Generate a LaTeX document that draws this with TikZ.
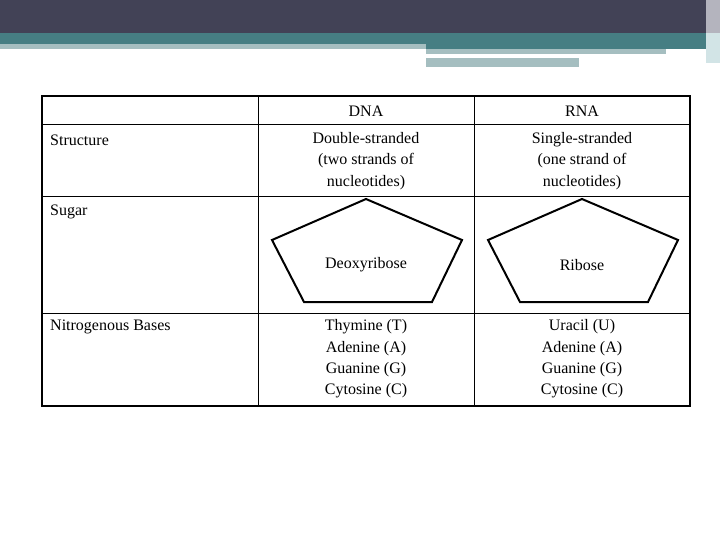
\documentclass[tikz,border=0pt]{standalone}
\usepackage{fontspec}
\setmainfont{Liberation Serif}
\begin{document}
\begin{tikzpicture}[x=1pt,y=-1pt,
 txt/.style={font=\fontsize{16}{21.3}\selectfont,align=center,inner sep=0},
 lt/.style={font=\fontsize{16}{21.3}\selectfont,anchor=west,inner sep=0},
 pent/.style={draw=black,line width=2pt,line join=miter}]
\useasboundingbox (0,0) rectangle (720,540);
\fill[white] (0,0) rectangle (720,540);
\fill[fill={rgb,255:red,66;green,66;blue,86}] (0,0) rectangle (720,33);
\fill[fill={rgb,255:red,70;green,126;blue,131}] (0,33) rectangle (720,44);
\fill[fill={rgb,255:red,70;green,126;blue,131}] (426,44) rectangle (720,49);
\fill[fill={rgb,255:red,165;green,190;blue,192}] (0,44) rectangle (426,49);
\fill[fill={rgb,255:red,165;green,190;blue,192}] (426,49) rectangle (666,54);
\fill[fill={rgb,255:red,165;green,190;blue,192}] (426,58) rectangle (579,67);
\fill[fill={rgb,255:red,180;green,180;blue,190}] (706,0) rectangle (720,33);
\fill[fill={rgb,255:red,210;green,228;blue,230}] (706,33) rectangle (720,63);
% table
\draw[line width=1.2pt] (42,96) rectangle (690,406);
\foreach \y in {125,197,313} \draw[line width=1pt] (42,\y) -- (690,\y);
\foreach \x in {258,474} \draw[line width=1pt] (\x,96) -- (\x,406);
\node[txt] (hd) at (366,111) {DNA};
\node[txt] (hr) at (582,111) {RNA};
\node[lt] (s) at (50,140) {Structure};
\node[txt] (sd) at (366,161) {Double-stranded\\(two strands of\\nucleotides)};
\node[txt] (sr) at (582,161) {Single-stranded\\(one strand of\\nucleotides)};
\node[lt] (su) at (50,212) {Sugar};
\draw[pent] (366,199) -- (462,240) -- (432,302) -- (304,302) -- (272,240) -- cycle;
\draw[pent] (582,199) -- (678,240) -- (648,302) -- (520,302) -- (488,240) -- cycle;
\node[txt] (dr) at (366,265) {Deoxyribose};
\node[txt] (rr) at (582,265) {Ribose};
\node[lt] (nb) at (50,327) {Nitrogenous Bases};
\node[txt] (bd) at (366,359) {Thymine (T)\\Adenine (A)\\Guanine (G)\\Cytosine (C)};
\node[txt] (br) at (582,359) {Uracil (U)\\Adenine (A)\\Guanine (G)\\Cytosine (C)};
\end{tikzpicture}
\end{document}
